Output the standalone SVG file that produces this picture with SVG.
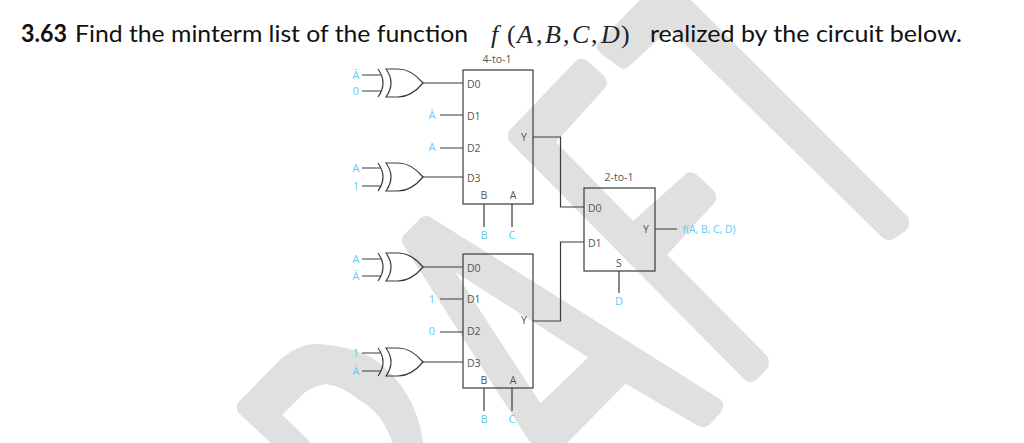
<svg xmlns="http://www.w3.org/2000/svg" xmlns:xlink="http://www.w3.org/1999/xlink" width="1024" height="443" viewBox="0 0 1024 443">
<style>
.wm{fill:#e0e0e0;stroke:#e0e0e0;stroke-width:6;stroke-linejoin:round;fill-rule:evenodd}
.w{fill:none;stroke:#3a3a3a;stroke-width:1.2}
.box{fill:none;stroke:#3a3a3a;stroke-width:1.2}
.g{fill:#fff;fill-opacity:0;stroke:#3a3a3a;stroke-width:1.2}
text{font-family:"Open Sans","Liberation Sans",sans-serif}
.l{font-size:10.500px;fill:#555}
.c{font-size:10.500px;fill:#555;text-anchor:middle}
.b{font-size:11px;fill:#62cbf7;text-anchor:middle}
.t{font-family:Lato,"Noto Sans",sans-serif;font-size:24px;fill:#111}
.m{font-family:"Liberation Serif",serif;font-size:26px;fill:#222}
.i{font-style:italic}
</style>
<defs>
<g id="xor">
<path class="g" d="M386,-14H398C409,-14 418,-6 423,0C418,6 409,14 398,14H386Q396,0 386,-14Z"/>
<path class="g" d="M378,-14Q388,0 378,14"/>
</g>
</defs>
<g id="watermark">
<path class="wm" d="M240,405 L281,363 Q300,346 318,347 Q345,348 370,360 Q392,375 405,397 Q418,420 420,443 L396,443 Q390,428 383,417 Q372,403 360,397 Q345,384 327,381 Q315,382 303,390 L278,415 L307,443 L275,443 L240,410Z"/>
<path class="wm" d="M405,238 L421,222 Q425,217 431,221 L719,402 Q722,406 718,411 L708,422 Q704,426 699,423 L625,380 L566,440 L532,440 L405,242Z M445,262 L540,408 L593,357 L500,297Z"/>
<path class="wm" d="M511,133 L577,64 Q581,60 585,63 L601,77 Q606,83 602,87 L552,142 L633,225 L688,176 Q692,174 696,178 L711,192 Q715,197 712,201 L663,255 L765,358 Q767,365 764,368 L755,377 Q750,381 745,376 L511,139Z"/>
<path class="wm" d="M600,45 L641,3 L690,3 L905,218 Q908,224 904,228 L893,236 Q888,239 884,235 L670,25 L627,64 Q624,68 620,64 L604,52 Q598,48 600,45Z"/>
</g>
<g id="title">
<text class="t" x="21" y="42" font-weight="700" textLength="46" lengthAdjust="spacingAndGlyphs">3.63</text>
<text class="t" x="75" y="42" textLength="393" lengthAdjust="spacingAndGlyphs">Find the minterm list of the function</text>
<text class="m" y="43"><tspan class="i" x="491">f</tspan><tspan x="507">(</tspan><tspan class="i" x="517">A</tspan><tspan x="536">,</tspan><tspan class="i" x="545">B</tspan><tspan x="563">,</tspan><tspan class="i" x="572">C</tspan><tspan x="591">,</tspan><tspan class="i" x="601">D</tspan><tspan x="621">)</tspan></text>
<text class="t" x="650" y="42" textLength="312" lengthAdjust="spacingAndGlyphs">realized by the circuit below.</text>
</g>
<g id="connectors">
<path class="w" d="M423,83H463M440,115H463M440,148H463M423,177H463"/>
<path class="w" d="M423,267H463M440,299H463M440,332H463M423,362H463"/>
<path class="w" d="M362,75H381M362,91H381M362,168H381M362,186H381"/>
<path class="w" d="M362,259H381M362,276H381M362,353H381M362,371H381"/>
<path class="w" stroke-width="1.5" d="M484,204V227M512,204V227M484,388V411M512,388V411"/>
<path class="w" d="M533,137H560.500V207H584M533,321H560.500V242H584"/>
<path class="w" d="M655,229H677M619,271V293"/>
</g>
<g id="gate1"><use xlink:href="#xor" href="#xor" y="83"/><text class="b" x="356" y="79">Ā</text><text class="b" x="356" y="95">0</text></g>
<g id="gate2"><use xlink:href="#xor" href="#xor" y="177"/><text class="b" x="356" y="172">A</text><text class="b" x="356" y="190">1</text></g>
<g id="gate3"><use xlink:href="#xor" href="#xor" y="267"/><text class="b" x="356" y="263">A</text><text class="b" x="356" y="280">Ā</text></g>
<g id="gate4"><use xlink:href="#xor" href="#xor" y="362"/><text class="b" x="356" y="357">1</text><text class="b" x="356" y="375">Ā</text></g>
<g id="mux1">
<rect class="box" x="463" y="70" width="70" height="134"/>
<text class="c" x="497" y="63">4-to-1</text>
<text class="l" x="467" y="88">D0</text><text class="l" x="467" y="120">D1</text><text class="l" x="467" y="152">D2</text><text class="l" x="467" y="182">D3</text>
<text class="c" x="524" y="141">Y</text><text class="c" x="484" y="199">B</text><text class="c" x="513" y="199">A</text>
<text class="b" x="432" y="119">Ā</text><text class="b" x="432" y="151">A</text><text class="b" x="484" y="239">B</text><text class="b" x="512" y="239">C</text>
</g>
<g id="mux2">
<rect class="box" x="463" y="254" width="70" height="134"/>
<text class="l" x="467" y="272">D0</text><text class="l" x="467" y="303">D1</text><text class="l" x="467" y="335">D2</text><text class="l" x="467" y="367">D3</text>
<text class="c" x="524" y="324">Y</text><text class="c" x="484" y="384">B</text><text class="c" x="513" y="384">A</text>
<text class="b" x="432" y="303">1</text><text class="b" x="432" y="335">0</text><text class="b" x="484" y="423">B</text><text class="b" x="512" y="423">C</text>
</g>
<g id="mux3">
<rect class="box" x="584" y="188" width="71" height="83"/>
<text class="c" x="619" y="181">2-to-1</text>
<text class="l" x="588" y="212">D0</text><text class="l" x="588" y="247">D1</text>
<text class="c" x="646" y="233">Y</text><text class="c" x="619" y="267">S</text>
<text class="b" x="619" y="305">D</text>
<text class="b" x="709" y="233" textLength="53" lengthAdjust="spacingAndGlyphs">f(A, B, C, D)</text>
</g>
</svg>
